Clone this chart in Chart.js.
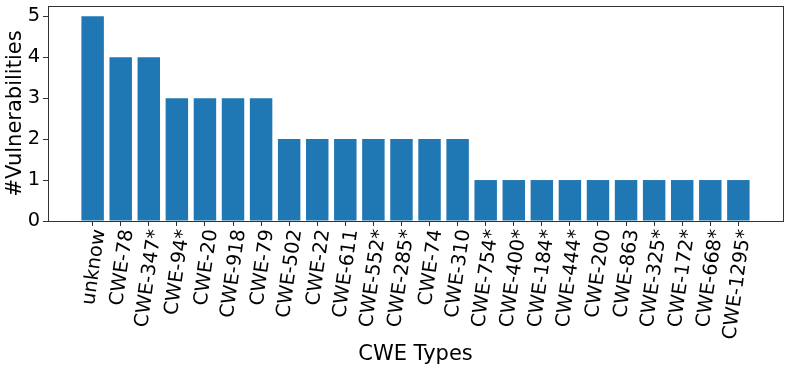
<!DOCTYPE html>
<html>
<head>
<meta charset="utf-8">
<script src="https://cdn.jsdelivr.net/npm/chart.js@4.4.0/dist/chart.umd.min.js"></script>
<style>
  html, body { margin: 0; padding: 0; background: #fff; overflow: hidden; }
  canvas { display: block; }
</style>
</head>
<body>
<canvas id="cweChart" width="789" height="369"></canvas>
<script>
const cweTypes = ['unknow', 'CWE-78', 'CWE-347*', 'CWE-94*', 'CWE-20', 'CWE-918', 'CWE-79',
  'CWE-502', 'CWE-22', 'CWE-611', 'CWE-552*', 'CWE-285*', 'CWE-74', 'CWE-310',
  'CWE-754*', 'CWE-400*', 'CWE-184*', 'CWE-444*', 'CWE-200', 'CWE-863',
  'CWE-325*', 'CWE-172*', 'CWE-668*', 'CWE-1295*'];
const vulnCounts = [5, 4, 4, 3, 3, 3, 3, 2, 2, 2, 2, 2, 2, 2, 1, 1, 1, 1, 1, 1, 1, 1, 1, 1];
const yTicks = [0, 1, 2, 3, 4, 5];

const font = 'DejaVu Sans';

// box around the plot area, like a matplotlib axes frame
const frame = {
  id: 'frame',
  afterDraw(chart) {
    const a = chart.chartArea;
    const c = chart.ctx;
    c.save();
    c.strokeStyle = '#333';
    c.lineWidth = 1;
    c.strokeRect(Math.round(a.left) + 0.5, Math.round(a.top) + 0.5,
      Math.round(a.right - a.left), Math.round(a.bottom - a.top));
    c.restore();
  }
};

const ctx = document.getElementById('cweChart');

new Chart(ctx, {
  type: 'bar',
  data: {
    datasets: [{
      data: vulnCounts.map((v, i) => ({ x: i, y: v })),
      backgroundColor: '#1f77b4',
      borderWidth: 0,
      barPercentage: 0.8,
      categoryPercentage: 1
    }]
  },
  options: {
    responsive: false,
    animation: false,
    maintainAspectRatio: false,
    layout: { padding: { top: 6, right: 6, left: 0, bottom: 0 } },
    plugins: { legend: { display: false }, tooltip: { enabled: false } },
    scales: {
      x: {
        type: 'linear',
        offset: false,
        min: -1.59,
        max: 24.59,
        afterBuildTicks: s => { s.ticks = cweTypes.map((_, i) => ({ value: i })); },
        afterFit: s => {
          s.height = 148;
          s.paddingLeft = 0;
          s.paddingRight = 0;
        },
        grid: { offset: false, drawOnChartArea: false, tickLength: 5, color: '#333' },
        border: { display: false },
        ticks: {
          autoSkip: false,
          minRotation: 82,
          maxRotation: 82,
          labelOffset: 7,
          padding: 2,
          color: '#000',
          font: { family: font, size: 19.4 },
          callback: v => cweTypes[v]
        },
        title: {
          display: true,
          text: 'CWE Types',
          color: '#000',
          font: { family: font, size: 21 },
          padding: { top: 0, bottom: 2 }
        }
      },
      y: {
        min: 0,
        max: 5.25,
        afterBuildTicks: s => { s.ticks = yTicks.map(v => ({ value: v })); },
        afterFit: s => {
          s.width = 48;
          s.paddingTop = 0;
          s.paddingBottom = 0;
        },
        grid: { drawOnChartArea: false, tickLength: 5, color: '#333' },
        border: { display: false },
        ticks: {
          padding: 3,
          color: '#000',
          font: { family: font, size: 19.4 },
          callback: v => String(v)
        },
        title: {
          display: true,
          text: '#Vulnerabilities',
          color: '#000',
          font: { family: font, size: 21 },
          padding: { top: 3, bottom: 0 }
        }
      }
    }
  },
  plugins: [frame]
});
</script>
</body>
</html>
